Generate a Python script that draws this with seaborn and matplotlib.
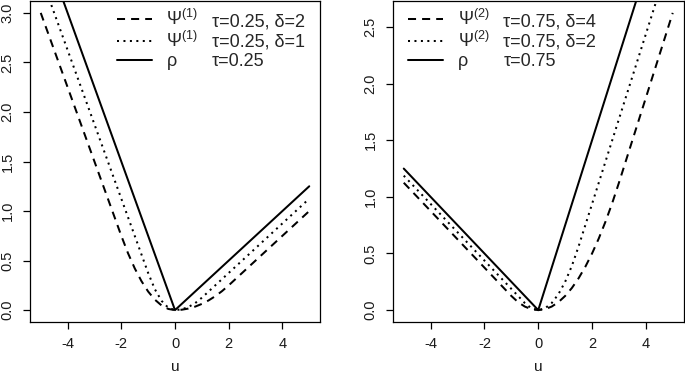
import seaborn as sns
import matplotlib.pyplot as plt
import pandas as pd

# left panel: tau = 0.25
u_rho = [-5, 0, 5]
rho_25 = [3.75, 0, 1.25]
u_psi1_d2 = [-5, -2, -1.75, -1.5, -1.25, -1, -0.75, -0.5, -0.25, 0,
             0.25, 0.5, 0.75, 1, 1.25, 1.5, 1.75, 2, 5]
psi1_d2 = [3.0, 0.75, 0.5742, 0.4219, 0.2930, 0.1875, 0.1055, 0.0469, 0.0117, 0,
           0.0039, 0.0156, 0.0352, 0.0625, 0.0977, 0.1406, 0.1914, 0.25, 1.0]
u_psi1_d1 = [-5, -1, -0.75, -0.5, -0.25, 0, 0.25, 0.5, 0.75, 1, 5]
psi1_d1 = [3.375, 0.375, 0.2109, 0.0938, 0.0234, 0, 0.0078, 0.0313, 0.0703, 0.125, 1.125]

# right panel: tau = 0.75
rho_75 = [1.25, 0, 3.75]
u_psi2_d4 = [-5, -1, -0.75, -0.5, -0.25, 0, 0.25, 0.5, 0.75, 1,
             1.25, 1.5, 1.75, 2, 2.25, 2.5, 2.75, 3, 5]
psi2_d4 = [1.125, 0.125, 0.0703, 0.0313, 0.0078, 0, 0.0078, 0.0313, 0.0703, 0.125,
           0.1953, 0.2813, 0.3828, 0.5, 0.6328, 0.7813, 0.9453, 1.125, 2.625]
u_psi2_d2 = [-5, -0.5, -0.25, 0, 0.25, 0.5, 0.75, 1, 1.25, 1.5, 5]
psi2_d2 = [1.1875, 0.0625, 0.0156, 0, 0.0156, 0.0625, 0.1406, 0.25, 0.3906, 0.5625, 3.1875]

x_ticks = [-4, -2, 0, 2, 4]
left_yticks = [0.0, 0.5, 1.0, 1.5, 2.0, 2.5, 3.0]
right_yticks = [0.0, 0.5, 1.0, 1.5, 2.0, 2.5]

left_labels = [("Ψ$^{(1)}$", "τ=0.25, δ=2"), ("Ψ$^{(1)}$", "τ=0.25, δ=1"), ("ρ", "τ=0.25")]
right_labels = [("Ψ$^{(2)}$", "τ=0.75, δ=4"), ("Ψ$^{(2)}$", "τ=0.75, δ=2"), ("ρ", "τ=0.75")]

sns.set_theme(style="ticks")
plt.rcParams['font.family'] = ['Liberation Sans', 'DejaVu Sans']
plt.rcParams['mathtext.fontset'] = 'custom'
plt.rcParams['mathtext.rm'] = 'Liberation Sans'
plt.rcParams['axes.unicode_minus'] = False

DASH = (4, 3)
DOT = (1, 2.2)

fig = plt.figure(figsize=(6.85, 3.73), dpi=100)
ax1 = fig.add_axes([30 / 685, 51 / 373, 290 / 685, 321 / 373])
ax2 = fig.add_axes([393 / 685, 51 / 373, 290.5 / 685, 321 / 373])


def draw(ax, series, ymax, yticks, labels, col1_x, col2_x):
    for (xs, ys, dash) in series:
        df = pd.DataFrame({"u": xs, "v": ys})
        sns.lineplot(data=df, x="u", y="v", ax=ax, color="black", lw=1.45,
                     estimator=None, sort=False)
        ln = ax.lines[-1]
        if dash is not None:
            ln.set_dashes(dash)
    pad = 0.04
    ax.set_xlim(-5 - 10 * pad, 5 + 10 * pad)
    ax.set_ylim(-ymax * pad, ymax * (1 + pad))
    ax.set_xticks(x_ticks)
    ax.set_yticks(yticks)
    ax.set_xticklabels([str(t) for t in x_ticks])
    ax.set_yticklabels([f"{t:.1f}" for t in yticks])
    for lab in ax.get_yticklabels():
        lab.set_rotation(90)
        lab.set_va("center")
    ax.tick_params(axis="both", direction="out", length=5, width=0.9,
                   labelsize=10.5, pad=6, color="black", labelcolor="#1a1a1a")
    for s in ax.spines.values():
        s.set_visible(True)
        s.set_linewidth(0.9)
        s.set_color("black")
    ax.set_xlabel("u", fontsize=11, labelpad=6, color="#1a1a1a")
    ax.set_ylabel("")

    handles = ax.lines[:3]
    ax.legend(handles, [a for a, b in labels], loc="upper left",
              bbox_to_anchor=(col1_x, 0.975), frameon=False, fontsize=13,
              handlelength=1.94, handletextpad=0.8, labelspacing=0.1,
              borderpad=0, borderaxespad=0)
    rows = [0.9355, 0.873, 0.81]
    for (a, b), yy in zip(labels, rows):
        ax.text(col2_x, yy, b, transform=ax.transAxes, fontsize=13,
                va="center", ha="left")


draw(ax1, [(u_psi1_d2, psi1_d2, DASH), (u_psi1_d1, psi1_d1, DOT), (u_rho, rho_25, None)],
     3.0, left_yticks, left_labels, 0.30, 0.628)
draw(ax2, [(u_psi2_d4, psi2_d4, DASH), (u_psi2_d2, psi2_d2, DOT), (u_rho, rho_75, None)],
     2.625, right_yticks, right_labels, 0.052, 0.38)

fig.savefig("out.png", dpi=100)
